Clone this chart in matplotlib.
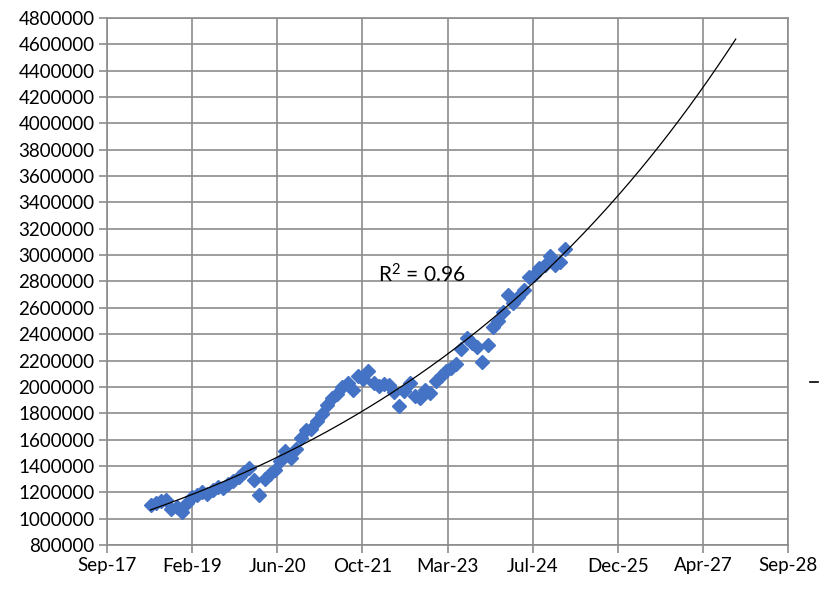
import numpy as np
import pandas as pd
import matplotlib
matplotlib.use('Agg')
import matplotlib.pyplot as plt
import matplotlib.dates as mdates
from matplotlib.lines import Line2D

# monthly values, Jun 2018 .. Feb 2025
values = [1100000, 1119000, 1134000, 1145000, 1073000, 1091000, 1053000, 1119000,
          1164000, 1180000, 1202000, 1187000, 1217000, 1240000, 1230000, 1263000,
          1286000, 1316000, 1354000, 1384000, 1293000, 1180000, 1301000, 1339000,
          1369000, 1438000, 1513000, 1460000, 1529000, 1612000, 1673000, 1683000,
          1741000, 1794000, 1863000, 1916000, 1946000, 1999000, 2030000, 1977000,
          2083000, 2060000, 2121000, 2030000, 2007000, 2022000, 2018000, 1961000,
          1855000, 1969000, 2030000, 1931000, 1918000, 1977000, 1954000, 2045000,
          2083000, 2121000, 2143000, 2174000, 2288000, 2371000, 2333000, 2303000,
          2191000, 2318000, 2455000, 2500000, 2569000, 2698000, 2637000, 2682000,
          2736000, 2834000, 2849000, 2903000, 2925000, 2994000, 2925000, 2948000,
          3047000]
dates = pd.date_range('2018-06-01', periods=len(values), freq='MS') + pd.Timedelta(days=4)

x_start = pd.Timestamp('2017-09-22')   # Excel serial 43000
x_end = pd.Timestamp('2028-09-04')     # Excel serial 47000
tick_dates = pd.date_range(x_start, x_end, freq='500D')
forecast_days = 1000
r2_label = 'R$^2$ = 0.96'

grid_col = '#8c8c8c'
blue = '#4472C4'

plt.rcParams['font.family'] = ['Lato', 'DejaVu Sans']
plt.rcParams['mathtext.fontset'] = 'custom'
plt.rcParams['mathtext.rm'] = 'Lato'
plt.rcParams['mathtext.it'] = 'Lato'
plt.rcParams['mathtext.default'] = 'regular'

fig = plt.figure(figsize=(8.19, 6.02), dpi=100)
ax = fig.add_axes([107/819, 1 - 545/602, (788 - 107)/819, (545 - 18)/602])

xn = mdates.date2num(dates)
ax.plot(xn, values, linestyle='none', marker='D', ms=6.8, color=blue, mec=blue, zorder=3)

# exponential trendline, forecast forward
b, a = np.polyfit(xn, np.log(values), 1)
xt = np.linspace(xn[0], xn[-1] + forecast_days, 300)
ax.plot(xt, np.exp(a + b*xt), color='black', lw=0.9, zorder=4)

ax.text(mdates.date2num(pd.Timestamp('2022-01-31')), 2850000, r2_label,
        fontsize=15, ha='left', va='center')

ax.set_xlim(mdates.date2num(x_start), mdates.date2num(x_end))
ax.set_ylim(800000, 4800000)
ax.set_xticks(mdates.date2num(tick_dates))
ax.xaxis.set_major_formatter(mdates.DateFormatter('%b-%y'))
ax.set_yticks(np.arange(800000, 4800001, 200000))
ax.yaxis.set_major_formatter(matplotlib.ticker.FuncFormatter(lambda v, p: '%d' % v))

ax.grid(True, color=grid_col, lw=1.2)
ax.set_axisbelow(True)
for s in ax.spines.values():
    s.set_color(grid_col)
    s.set_linewidth(1.2)
ax.tick_params(length=6, width=1.2, color=grid_col, labelsize=13.5, pad=3)

# clipped legend key at the right edge
fig.add_artist(Line2D([810/819, 818/819], [1 - 381.5/602]*2, color='black', lw=1.2))

fig.savefig('out.png', dpi=100)
